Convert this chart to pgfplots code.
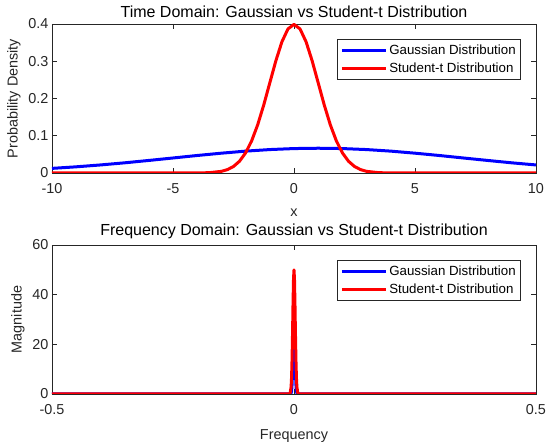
\documentclass[border=0pt]{standalone}
\usepackage{fontspec}
\setmainfont{Liberation Sans}
\usepackage{pgfplots}
\pgfplotsset{compat=1.18}
\definecolor{axgray}{gray}{0.15}
\begin{document}
\begin{tikzpicture}
\useasboundingbox (0pt,0pt) rectangle (550pt,445pt);
\pgfplotsset{
  myax/.style={
    width=484pt, height=149pt, scale only axis,
    anchor=south west,
    axis line style={axgray, line width=0.6pt},
    tick style={axgray, line width=0.6pt},
    tick align=inside,
    major tick length=5pt,
    /pgf/number format/assume math mode=true,
    tick label style={font=\fontsize{14.4}{16}\selectfont, text=axgray},
    xticklabel style={yshift=-7pt},
    label style={font=\fontsize{14.4}{16}\selectfont, text=axgray},
    title style={font=\fontsize{16}{18}\selectfont, yshift=-3pt},
    every axis plot/.append style={line width=3pt, line join=round},
    legend cell align=left,
    legend style={font=\fontsize{13.3}{15}\selectfont, draw=axgray, line width=0.6pt,
      at={(0.969,0.899)}, anchor=north east, inner xsep=3pt, inner ysep=3.5pt, row sep=2.5pt},
    legend image code/.code={\draw[##1,line width=3pt] (0pt,0pt) -- (44pt,0pt);},
    ylabel style={yshift=1pt},
    xlabel style={yshift=-8pt},
  }
}
\begin{axis}[myax, at={(52pt,272pt)},
  xmin=-10, xmax=10, ymin=0, ymax=0.4,
  xtick={-10,-5,0,5,10}, ytick={0,0.1,0.2,0.3,0.4},
  yticklabels={0,0.1,0.2,0.3,0.4},
  title={Time Domain: Gaussian vs Student-t Distribution},
  xlabel={x}, ylabel={Probability Density}]
\addplot[blue] coordinates {
(-10,0.0124) (-9,0.0166) (-8,0.0216) (-7,0.0273) (-6,0.0337) (-5,0.0403)
(-4,0.0470) (-3,0.0532) (-2,0.0587) (-1,0.0629) (0,0.0656) (1,0.0665)
(2,0.0656) (3,0.0629) (4,0.0587) (5,0.0532) (6,0.0470) (7,0.0403)
(8,0.0337) (9,0.0273) (10,0.0216)};
\addlegendentry{Gaussian Distribution}
\addplot[red] coordinates {
(-10,0) (-5,0) (-4,0.0001) (-3.5,0.0009) (-3,0.0044) (-2.75,0.0091) (-2.5,0.0175)
(-2.25,0.0317) (-2,0.0540) (-1.75,0.0863) (-1.5,0.1295) (-1.25,0.1826) (-1,0.2420)
(-0.75,0.3011) (-0.5,0.3521) (-0.25,0.3867) (0,0.3989) (0.25,0.3867) (0.5,0.3521)
(0.75,0.3011) (1,0.2420) (1.25,0.1826) (1.5,0.1295) (1.75,0.0863) (2,0.0540)
(2.25,0.0317) (2.5,0.0175) (2.75,0.0091) (3,0.0044) (3.5,0.0009) (4,0.0001)
(5,0) (10,0)};
\addlegendentry{Student-t Distribution}
\end{axis}
\begin{axis}[myax, at={(52pt,51pt)},
  xmin=-0.5, xmax=0.5, ymin=0, ymax=60,
  xtick={-0.5,0,0.5}, ytick={0,20,40,60},
  title={Frequency Domain: Gaussian vs Student-t Distribution},
  xlabel={Frequency}, ylabel={Magnitude}]
\addplot[blue] coordinates {
(-0.5,0) (-0.008,0) (-0.006,0.3) (-0.005,1.2) (-0.004,3.7) (-0.003,8.8) (-0.002,16.4)
(-0.001,23.8) (0,27) (0.001,23.8) (0.002,16.4) (0.003,8.8) (0.004,3.7) (0.005,1.2)
(0.006,0.3) (0.008,0) (0.5,0)};
\addlegendentry{Gaussian Distribution}
\addplot[red] coordinates {
(-0.5,0) (-0.01,0) (-0.008,0.3) (-0.006,2.8) (-0.005,6.8) (-0.004,13.9) (-0.003,24.3)
(-0.002,36.3) (-0.001,46.2) (0,50) (0.001,46.2) (0.002,36.3) (0.003,24.3)
(0.004,13.9) (0.005,6.8) (0.006,2.8) (0.008,0.3) (0.01,0) (0.5,0)};
\addlegendentry{Student-t Distribution}
\end{axis}
\end{tikzpicture}
\end{document}
